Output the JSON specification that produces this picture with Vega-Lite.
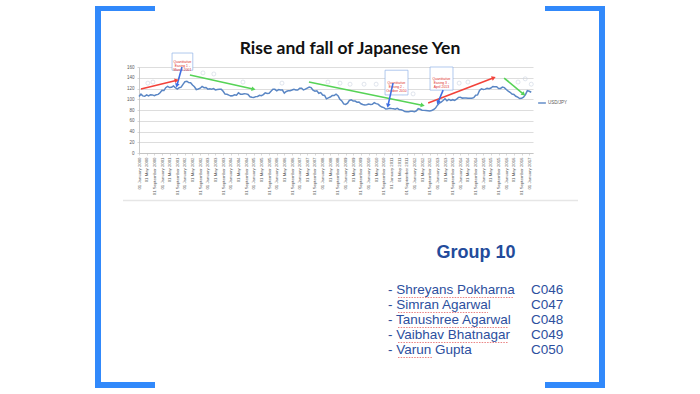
{
  "$schema": "https://vega.github.io/schema/vega-lite/v6.json",
  "width": 394,
  "height": 86,
  "autosize": {"type": "none"},
  "padding": {"left": 139, "top": 67, "right": 167, "bottom": 241},
  "background": "white",
  "config": {
    "view": {"stroke": null},
    "font": "Liberation Sans",
    "axisY": {"title": null, "tickCount": 8, "labelFontSize": 4.5, "labelColor": "#595959", "labelPadding": 3, "labelOverlap": false,
      "labelFlush": false, "labelBound": false, "grid": true, "gridColor": "#d9d9d9", "gridWidth": 0.9, "domainColor": "#bfbfbf",
      "domainWidth": 0.8, "tickColor": "#bfbfbf", "tickSize": 2, "tickWidth": 0.6},
    "axisX": {"title": null, "labelFontSize": 4.3, "labelColor": "#595959", "labelPadding": 2, "labelOverlap": false, "labelFlush": false,
      "labelBound": false, "grid": false, "domainColor": "#bfbfbf", "domainWidth": 0.8, "tickColor": "#bfbfbf", "tickSize": 2, "tickWidth": 0.6}
  },
  "datasets": {
    "usdjpy": [
      {"d":"2000-01-01","v":105.2},{"d":"2000-02-01","v":109.4},{"d":"2000-03-01","v":106.3},{"d":"2000-04-01","v":105.6},{"d":"2000-05-01","v":108.3},{"d":"2000-06-01","v":106.1},{"d":"2000-07-01","v":108.2},{"d":"2000-08-01","v":108.1},{"d":"2000-09-01","v":106.8},{"d":"2000-10-01","v":108.4},{"d":"2000-11-01","v":109.0},{"d":"2000-12-01","v":112.2},
      {"d":"2001-01-01","v":116.7},{"d":"2001-02-01","v":116.2},{"d":"2001-03-01","v":121.5},{"d":"2001-04-01","v":123.8},{"d":"2001-05-01","v":121.8},{"d":"2001-06-01","v":122.3},{"d":"2001-07-01","v":124.6},{"d":"2001-08-01","v":121.5},{"d":"2001-09-01","v":118.9},{"d":"2001-10-01","v":121.4},{"d":"2001-11-01","v":122.4},{"d":"2001-12-01","v":127.6},
      {"d":"2002-01-01","v":132.7},{"d":"2002-02-01","v":133.6},{"d":"2002-03-01","v":131.1},{"d":"2002-04-01","v":130.8},{"d":"2002-05-01","v":126.4},{"d":"2002-06-01","v":123.3},{"d":"2002-07-01","v":118.1},{"d":"2002-08-01","v":119.0},{"d":"2002-09-01","v":120.5},{"d":"2002-10-01","v":123.9},{"d":"2002-11-01","v":121.6},{"d":"2002-12-01","v":121.9},
      {"d":"2003-01-01","v":118.8},{"d":"2003-02-01","v":119.3},{"d":"2003-03-01","v":118.7},{"d":"2003-04-01","v":119.9},{"d":"2003-05-01","v":117.4},{"d":"2003-06-01","v":118.3},{"d":"2003-07-01","v":118.7},{"d":"2003-08-01","v":118.7},{"d":"2003-09-01","v":114.8},{"d":"2003-10-01","v":109.5},{"d":"2003-11-01","v":109.2},{"d":"2003-12-01","v":107.7},
      {"d":"2004-01-01","v":106.3},{"d":"2004-02-01","v":106.7},{"d":"2004-03-01","v":108.5},{"d":"2004-04-01","v":107.7},{"d":"2004-05-01","v":112.2},{"d":"2004-06-01","v":109.4},{"d":"2004-07-01","v":109.5},{"d":"2004-08-01","v":110.2},{"d":"2004-09-01","v":110.0},{"d":"2004-10-01","v":108.8},{"d":"2004-11-01","v":104.7},{"d":"2004-12-01","v":103.8},
      {"d":"2005-01-01","v":103.3},{"d":"2005-02-01","v":104.9},{"d":"2005-03-01","v":105.3},{"d":"2005-04-01","v":107.3},{"d":"2005-05-01","v":106.6},{"d":"2005-06-01","v":108.7},{"d":"2005-07-01","v":111.9},{"d":"2005-08-01","v":110.6},{"d":"2005-09-01","v":111.2},{"d":"2005-10-01","v":114.9},{"d":"2005-11-01","v":118.5},{"d":"2005-12-01","v":118.5},
      {"d":"2006-01-01","v":115.5},{"d":"2006-02-01","v":117.9},{"d":"2006-03-01","v":117.3},{"d":"2006-04-01","v":117.1},{"d":"2006-05-01","v":111.5},{"d":"2006-06-01","v":114.5},{"d":"2006-07-01","v":115.6},{"d":"2006-08-01","v":115.9},{"d":"2006-09-01","v":117.2},{"d":"2006-10-01","v":118.7},{"d":"2006-11-01","v":117.3},{"d":"2006-12-01","v":117.3},
      {"d":"2007-01-01","v":120.6},{"d":"2007-02-01","v":120.5},{"d":"2007-03-01","v":117.3},{"d":"2007-04-01","v":118.8},{"d":"2007-05-01","v":120.8},{"d":"2007-06-01","v":122.6},{"d":"2007-07-01","v":121.6},{"d":"2007-08-01","v":116.7},{"d":"2007-09-01","v":115.0},{"d":"2007-10-01","v":115.8},{"d":"2007-11-01","v":111.1},{"d":"2007-12-01","v":112.4},
      {"d":"2008-01-01","v":107.8},{"d":"2008-02-01","v":107.1},{"d":"2008-03-01","v":100.8},{"d":"2008-04-01","v":102.6},{"d":"2008-05-01","v":104.1},{"d":"2008-06-01","v":106.9},{"d":"2008-07-01","v":106.8},{"d":"2008-08-01","v":109.4},{"d":"2008-09-01","v":106.6},{"d":"2008-10-01","v":100.1},{"d":"2008-11-01","v":96.9},{"d":"2008-12-01","v":91.3},
      {"d":"2009-01-01","v":90.3},{"d":"2009-02-01","v":92.8},{"d":"2009-03-01","v":97.8},{"d":"2009-04-01","v":98.9},{"d":"2009-05-01","v":96.6},{"d":"2009-06-01","v":96.6},{"d":"2009-07-01","v":94.5},{"d":"2009-08-01","v":95.0},{"d":"2009-09-01","v":91.5},{"d":"2009-10-01","v":90.3},{"d":"2009-11-01","v":89.2},{"d":"2009-12-01","v":89.9},
      {"d":"2010-01-01","v":91.1},{"d":"2010-02-01","v":90.2},{"d":"2010-03-01","v":90.6},{"d":"2010-04-01","v":93.5},{"d":"2010-05-01","v":91.8},{"d":"2010-06-01","v":90.9},{"d":"2010-07-01","v":87.6},{"d":"2010-08-01","v":85.4},{"d":"2010-09-01","v":84.4},{"d":"2010-10-01","v":81.8},{"d":"2010-11-01","v":82.5},{"d":"2010-12-01","v":83.3},
      {"d":"2011-01-01","v":82.6},{"d":"2011-02-01","v":82.5},{"d":"2011-03-01","v":81.6},{"d":"2011-04-01","v":83.2},{"d":"2011-05-01","v":81.1},{"d":"2011-06-01","v":80.5},{"d":"2011-07-01","v":79.3},{"d":"2011-08-01","v":77.0},{"d":"2011-09-01","v":76.8},{"d":"2011-10-01","v":76.7},{"d":"2011-11-01","v":77.5},{"d":"2011-12-01","v":77.8},
      {"d":"2012-01-01","v":76.9},{"d":"2012-02-01","v":78.5},{"d":"2012-03-01","v":82.4},{"d":"2012-04-01","v":81.3},{"d":"2012-05-01","v":79.7},{"d":"2012-06-01","v":79.3},{"d":"2012-07-01","v":79.0},{"d":"2012-08-01","v":78.7},{"d":"2012-09-01","v":78.2},{"d":"2012-10-01","v":78.9},{"d":"2012-11-01","v":80.9},{"d":"2012-12-01","v":83.6},
      {"d":"2013-01-01","v":89.0},{"d":"2013-02-01","v":93.0},{"d":"2013-03-01","v":94.8},{"d":"2013-04-01","v":97.7},{"d":"2013-05-01","v":101.0},{"d":"2013-06-01","v":97.2},{"d":"2013-07-01","v":99.7},{"d":"2013-08-01","v":97.8},{"d":"2013-09-01","v":99.2},{"d":"2013-10-01","v":97.8},{"d":"2013-11-01","v":100.1},{"d":"2013-12-01","v":103.5},
      {"d":"2014-01-01","v":103.8},{"d":"2014-02-01","v":102.1},{"d":"2014-03-01","v":102.3},{"d":"2014-04-01","v":102.5},{"d":"2014-05-01","v":101.8},{"d":"2014-06-01","v":102.0},{"d":"2014-07-01","v":101.7},{"d":"2014-08-01","v":102.9},{"d":"2014-09-01","v":107.4},{"d":"2014-10-01","v":108.0},{"d":"2014-11-01","v":116.4},{"d":"2014-12-01","v":119.4},
      {"d":"2015-01-01","v":118.3},{"d":"2015-02-01","v":118.8},{"d":"2015-03-01","v":120.4},{"d":"2015-04-01","v":119.5},{"d":"2015-05-01","v":120.8},{"d":"2015-06-01","v":123.7},{"d":"2015-07-01","v":123.3},{"d":"2015-08-01","v":123.2},{"d":"2015-09-01","v":120.1},{"d":"2015-10-01","v":120.1},{"d":"2015-11-01","v":122.6},{"d":"2015-12-01","v":121.6},
      {"d":"2016-01-01","v":118.2},{"d":"2016-02-01","v":115.0},{"d":"2016-03-01","v":113.0},{"d":"2016-04-01","v":109.7},{"d":"2016-05-01","v":109.0},{"d":"2016-06-01","v":105.5},{"d":"2016-07-01","v":103.9},{"d":"2016-08-01","v":101.3},{"d":"2016-09-01","v":101.8},{"d":"2016-10-01","v":103.9},{"d":"2016-11-01","v":108.6},{"d":"2016-12-01","v":116.1},
      {"d":"2017-01-01","v":114.9},{"d":"2017-02-01","v":113.0}
    ],
    "arrows": [
      {"kind":"rise","d1":"2000-02-01","v1":119,"d2":"2001-08-12","v2":135,"heading":76},
      {"kind":"fall","d1":"2002-03-21","v1":145,"d2":"2004-12-18","v2":119,"heading":102},
      {"kind":"fall","d1":"2007-05-28","v1":132,"d2":"2012-05-01","v2":89,"heading":101},
      {"kind":"rise","d1":"2012-08-06","v1":93,"d2":"2015-06-06","v2":139.5,"heading":70},
      {"kind":"fall","d1":"2015-11-28","v1":139.5,"d2":"2016-09-25","v2":110,"heading":130},
      {"kind":"pointer","d1":"2001-11-15","v1":160,"d2":"2001-08-28","v2":126.5,"heading":195},
      {"kind":"pointer","d1":"2011-01-25","v1":130,"d2":"2010-11-07","v2":89,"heading":193},
      {"kind":"pointer","d1":"2013-04-01","v1":117,"d2":"2013-01-12","v2":95,"heading":202}
    ],
    "callouts": [
      {"d1":"2001-06-10","d2":"2002-05-06","v1":186,"v2":154,"dm":"2001-11-22","vm":170,"label":"Quantitative\nEasing 1 -\nMarch 2001"},
      {"d1":"2010-09-20","d2":"2011-09-20","v1":154,"v2":108,"dm":"2011-03-20","vm":131,"label":"Quantitative\nEasing 2 -\nOctober 2010"},
      {"d1":"2012-09-05","d2":"2013-09-05","v1":160,"v2":117,"dm":"2013-03-05","vm":138.5,"label":"Quantitative\nEasing 3 -\nApril 2013"}
    ],
    "icons": [
      {"d":"2000-05-21","v":130},{"d":"2000-08-10","v":132},{"d":"2002-10-15","v":149},{"d":"2003-04-06","v":147},
      {"d":"2004-07-12","v":132},{"d":"2006-03-25","v":130},{"d":"2008-03-25","v":132},{"d":"2008-10-03","v":130},
      {"d":"2009-03-12","v":128},{"d":"2009-10-21","v":128},{"d":"2010-05-01","v":128},{"d":"2011-07-01","v":112},
      {"d":"2011-12-10","v":110},{"d":"2013-12-12","v":130},{"d":"2014-05-01","v":132},{"d":"2016-07-06","v":132},
      {"d":"2016-10-28","v":138},{"d":"2017-02-01","v":128}
    ],
    "frame": [
      {"x1":95,"x2":101,"y1":6,"y2":388},
      {"x1":95,"x2":155,"y1":6,"y2":11},
      {"x1":95,"x2":155,"y1":382,"y2":388},
      {"x1":599,"x2":605,"y1":6,"y2":388},
      {"x1":545,"x2":605,"y1":6,"y2":11},
      {"x1":545,"x2":605,"y1":382,"y2":388}
    ],
    "divider": [{"x1":123,"x2":578,"y1":200.5,"y2":200.5}],
    "spell": [
      {"x1":398,"x2":513,"y":297.5},
      {"x1":398,"x2":488,"y":312.5},
      {"x1":398,"x2":508,"y":327.5},
      {"x1":398,"x2":508,"y":342.5},
      {"x1":398,"x2":432,"y":357.5}
    ],
    "title": [{"x":350,"y":49,"t":"Rise and fall of Japanese Yen"}],
    "group": [{"x":476,"y":253,"t":"Group 10"}],
    "members": [
      {"x":388,"cx":531,"y":290,"t":"- Shreyans Pokharna","c":"C046"},
      {"x":388,"cx":531,"y":305,"t":"- Simran Agarwal","c":"C047"},
      {"x":388,"cx":531,"y":320,"t":"- Tanushree Agarwal","c":"C048"},
      {"x":388,"cx":531,"y":335,"t":"- Vaibhav Bhatnagar","c":"C049"},
      {"x":388,"cx":531,"y":350,"t":"- Varun Gupta","c":"C050"}
    ]
  },
  "layer": [
    {
      "layer": [
        {
          "data": {"name": "usdjpy"},
          "mark": {"type": "line", "strokeWidth": 1.5, "interpolate": "linear"},
          "encoding": {
            "x": {"field": "d", "type": "temporal",
              "scale": {"type": "utc", "domain": [{"year": 2000, "month": 1, "date": 1, "utc": true}, {"year": 2017, "month": 3, "date": 1, "utc": true}]},
              "axis": {"format": "%d %B %Y", "tickCount": {"interval": "month", "step": 4}, "labelAngle": -90}},
            "y": {"field": "v", "type": "quantitative",
              "scale": {"domain": [0, 160], "nice": false, "zero": true},
              "axis": {"tickCount": 8}},
            "stroke": {"datum": "USD/JPY", "type": "nominal", "scale": {"range": ["#5a86c4"]},
              "legend": {"title": null, "orient": "none", "legendX": 398, "legendY": 31, "padding": 0, "labelFontSize": 4.5,
                "labelColor": "#595959", "symbolType": "stroke", "symbolStrokeWidth": 1.4, "symbolSize": 60, "labelOffset": 1}}
          }
        },
        {
          "data": {"name": "icons"},
          "mark": {"type": "point", "shape": "circle", "filled": false, "size": 16, "stroke": "#cbd4e1", "strokeWidth": 0.6, "opacity": 1},
          "encoding": {
            "x": {"field": "d", "type": "temporal", "scale": {"type": "utc", "domain": [{"year": 2000, "month": 1, "date": 1, "utc": true}, {"year": 2017, "month": 3, "date": 1, "utc": true}]}},
            "y": {"field": "v", "type": "quantitative", "scale": {"domain": [0, 160], "nice": false}}
          }
        },
        {
          "data": {"name": "callouts"},
          "mark": {"type": "rect", "fill": "white", "stroke": "#8fb1e6", "strokeWidth": 0.7},
          "encoding": {
            "x": {"field": "d1", "type": "temporal", "scale": {"type": "utc", "domain": [{"year": 2000, "month": 1, "date": 1, "utc": true}, {"year": 2017, "month": 3, "date": 1, "utc": true}]}},
            "x2": {"field": "d2"},
            "y": {"field": "v1", "type": "quantitative", "scale": {"domain": [0, 160], "nice": false}},
            "y2": {"field": "v2"}
          }
        },
        {
          "data": {"name": "callouts"},
          "mark": {"type": "text", "fontSize": 3.4, "color": "#e0302a", "lineBreak": "\n", "align": "center", "baseline": "middle", "lineHeight": 4},
          "encoding": {
            "x": {"field": "dm", "type": "temporal", "scale": {"type": "utc", "domain": [{"year": 2000, "month": 1, "date": 1, "utc": true}, {"year": 2017, "month": 3, "date": 1, "utc": true}]}},
            "y": {"field": "vm", "type": "quantitative", "scale": {"domain": [0, 160], "nice": false}},
            "text": {"field": "label"}
          }
        },
        {
          "data": {"name": "arrows"},
          "mark": {"type": "rule", "strokeWidth": 1.6},
          "encoding": {
            "x": {"field": "d1", "type": "temporal", "scale": {"type": "utc", "domain": [{"year": 2000, "month": 1, "date": 1, "utc": true}, {"year": 2017, "month": 3, "date": 1, "utc": true}]}},
            "x2": {"field": "d2"},
            "y": {"field": "v1", "type": "quantitative", "scale": {"domain": [0, 160], "nice": false}},
            "y2": {"field": "v2"},
            "color": {"field": "kind", "type": "nominal", "scale": {"domain": ["rise", "fall", "pointer"], "range": ["#f2423a", "#56d356", "#3d6ee3"]}, "legend": null}
          }
        },
        {
          "data": {"name": "arrows"},
          "mark": {"type": "point", "shape": "triangle", "filled": true, "size": 22, "opacity": 1},
          "encoding": {
            "x": {"field": "d2", "type": "temporal", "scale": {"type": "utc", "domain": [{"year": 2000, "month": 1, "date": 1, "utc": true}, {"year": 2017, "month": 3, "date": 1, "utc": true}]}},
            "y": {"field": "v2", "type": "quantitative", "scale": {"domain": [0, 160], "nice": false}},
            "angle": {"field": "heading", "type": "quantitative", "scale": null},
            "color": {"field": "kind", "type": "nominal", "scale": {"domain": ["rise", "fall", "pointer"], "range": ["#f2423a", "#56d356", "#3d6ee3"]}, "legend": null}
          }
        }
      ]
    },
    {
      "layer": [
        {
          "data": {"name": "frame"},
          "mark": {"type": "rect", "color": "#3189fb"},
          "encoding": {
            "x": {"field": "x1", "type": "quantitative", "scale": {"domain": [0, 700], "range": [-139, 561], "nice": false, "zero": false}, "axis": null},
            "x2": {"field": "x2"},
            "y": {"field": "y1", "type": "quantitative", "scale": {"domain": [0, 394], "range": [-67, 327], "nice": false, "zero": false}, "axis": null},
            "y2": {"field": "y2"}
          }
        },
        {
          "data": {"name": "divider"},
          "mark": {"type": "rule", "color": "#e6e6e6", "strokeWidth": 1.5},
          "encoding": {
            "x": {"field": "x1", "type": "quantitative"},
            "x2": {"field": "x2"},
            "y": {"field": "y1", "type": "quantitative"}
          }
        },
        {
          "data": {"name": "spell"},
          "mark": {"type": "rule", "color": "#e04848", "strokeWidth": 0.8, "strokeDash": [1.5, 1.2], "opacity": 0.85},
          "encoding": {
            "x": {"field": "x1", "type": "quantitative"},
            "x2": {"field": "x2"},
            "y": {"field": "y", "type": "quantitative"}
          }
        },
        {
          "data": {"name": "title"},
          "mark": {"type": "text", "font": "Lato", "fontWeight": "bold", "fontSize": 17.5, "color": "#111111", "align": "center", "baseline": "middle"},
          "encoding": {
            "x": {"field": "x", "type": "quantitative"},
            "y": {"field": "y", "type": "quantitative"},
            "text": {"field": "t"}
          }
        },
        {
          "data": {"name": "group"},
          "mark": {"type": "text", "font": "Liberation Sans", "fontWeight": "bold", "fontSize": 18, "color": "#234b9b", "align": "center", "baseline": "middle"},
          "encoding": {
            "x": {"field": "x", "type": "quantitative"},
            "y": {"field": "y", "type": "quantitative"},
            "text": {"field": "t"}
          }
        },
        {
          "data": {"name": "members"},
          "mark": {"type": "text", "font": "Liberation Sans", "fontSize": 13.5, "color": "#2c4f9e", "align": "left", "baseline": "middle"},
          "encoding": {
            "x": {"field": "x", "type": "quantitative"},
            "y": {"field": "y", "type": "quantitative"},
            "text": {"field": "t"}
          }
        },
        {
          "data": {"name": "members"},
          "mark": {"type": "text", "font": "Liberation Sans", "fontSize": 13.5, "color": "#2c4f9e", "align": "left", "baseline": "middle"},
          "encoding": {
            "x": {"field": "cx", "type": "quantitative"},
            "y": {"field": "y", "type": "quantitative"},
            "text": {"field": "c"}
          }
        }
      ]
    }
  ],
  "resolve": {"scale": {"x": "independent", "y": "independent"}}
}
